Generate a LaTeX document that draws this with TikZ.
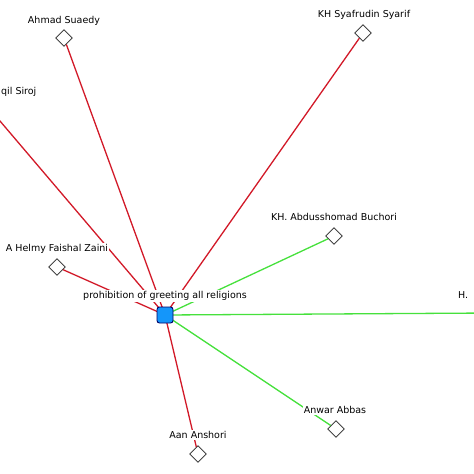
\documentclass[tikz,border=0pt]{standalone}
\usepackage{fontspec}
\setmainfont{DejaVu Sans}
\begin{document}
\begin{tikzpicture}[x=1pt,y=-1pt,
  lbl/.style={fill=white,inner sep=1pt,font=\fontsize{9.5}{11}\selectfont},
  actor/.style={draw=black!75,line width=0.8pt,fill=white,rectangle,rotate=45,minimum size=11.5pt,inner sep=0pt},
  hubbox/.style={draw=blue!40!black,line width=0.9pt,fill={rgb,255:red,20;green,150;blue,250},rounded corners=2.5pt,minimum size=16pt,inner sep=0pt},
  redl/.style={draw={rgb,255:red,210;green,25;blue,40},line width=1.3pt},
  grnl/.style={draw={rgb,255:red,70;green,225;blue,60},line width=1.3pt}]
\useasboundingbox (0,0) rectangle (474,474);
\clip (0,0) rectangle (474,474);
\fill[white] (0,0) rectangle (474,474);
% coordinates
\coordinate (hubc) at (165,315);
\coordinate (aqil) at (-40,74);
\coordinate (hx) at (490,313);
\node[actor] (ahmad) at (64,38) {};
\node[actor] (syaf) at (363,33) {};
\node[actor] (helmy) at (57,267) {};
\node[actor] (buch) at (334,236) {};
\node[actor] (anwar) at (336,429) {};
\node[actor] (aan) at (198,454) {};
% edges
\draw[redl] (aqil) -- (hubc);
\draw[redl] (ahmad) -- (hubc);
\draw[redl] (syaf) -- (hubc);
\draw[redl] (helmy) -- (hubc);
\draw[redl] (aan) -- (hubc);
\draw[grnl] (buch) -- (hubc);
\draw[grnl] (hx) -- (hubc);
\draw[grnl] (anwar) -- (hubc);
% redraw diamonds on top
\node[actor] at (64,38) {};
\node[actor] at (363,33) {};
\node[actor] at (57,267) {};
\node[actor] at (334,236) {};
\node[actor] at (336,429) {};
\node[actor] at (198,454) {};
% labels
\node[lbl] (lahmad) at (64,21) {Ahmad Suaedy};
\node[lbl] (lsyaf) at (364,15) {KH Syafrudin Syarif};
\node[lbl,anchor=west] (laqil) at (0,92) {qil Siroj};
\node[lbl] (lhelmy) at (57,249) {A Helmy Faishal Zaini};
\node[lbl] (lbuch) at (334,217) {KH. Abdusshomad Buchori};
\node[lbl,anchor=west] (lh) at (457,295) {H.};
\node[lbl] (lanwar) at (335,410) {Anwar Abbas};
\node[lbl] (laan) at (198,435) {Aan Anshori};
\node[lbl] (lhub) at (165,296) {prohibition of greeting all religions};
% hub
\node[hubbox] (hub) at (hubc) {};
\end{tikzpicture}
\end{document}
